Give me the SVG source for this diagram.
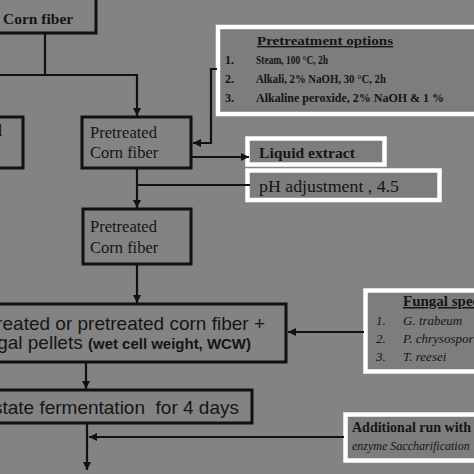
<svg xmlns="http://www.w3.org/2000/svg" width="474" height="474" viewBox="0 0 474 474">
<defs>
<marker id="ah" markerUnits="userSpaceOnUse" markerWidth="10" markerHeight="10" refX="8" refY="4" orient="auto">
<path d="M0,0 L8,4 L0,8 z" fill="#111"/>
</marker>
<style>
.bx{fill:#838383;stroke:#111;stroke-width:3}
.wb{fill:#7d7d7d;stroke:#fff;stroke-width:4.5}
.cn{fill:none;stroke:#111;stroke-width:2.2}
.ser{font-family:"Liberation Serif","Times New Roman",serif;fill:#151515}
.san{font-family:"Liberation Sans",Arial,sans-serif;fill:#151515}
.b{font-weight:bold}
.i{font-style:italic}
</style>
</defs>
<rect width="474" height="474" fill="#838383"/>

<g id="corn-fiber">
<rect class="bx" x="-10" y="-5" width="106" height="38"/>
<text class="ser b" x="3" y="24" font-size="15.5">Corn fiber</text>
</g>

<g id="untreated">
<rect class="bx" x="-60" y="117" width="83" height="51"/>
<text class="ser" x="2" y="136" font-size="16.5" text-anchor="end">Untreated</text>
</g>

<g id="pretreated-1">
<rect class="bx" x="82" y="117" width="109" height="51"/>
<text class="ser" x="90" y="138" font-size="16.5">Pretreated</text>
<text class="ser" x="90" y="158" font-size="16.5">Corn fiber</text>
</g>

<g id="pretreatment-options">
<rect class="wb" x="218" y="27" width="270" height="87"/>
<text class="ser b" x="257" y="45" font-size="13.5" textLength="136" lengthAdjust="spacingAndGlyphs" text-decoration="underline">Pretreatment options</text>
<text class="ser b" x="225" y="64" font-size="12">1.</text>
<text class="ser b" x="256" y="64" font-size="12" textLength="72" lengthAdjust="spacingAndGlyphs">Steam, 100 °C, 2h</text>
<text class="ser b" x="225" y="83" font-size="12">2.</text>
<text class="ser b" x="256" y="83" font-size="12" textLength="130" lengthAdjust="spacingAndGlyphs">Alkali, 2% NaOH, 30 °C, 2h</text>
<text class="ser b" x="225" y="102" font-size="12">3.</text>
<text class="ser b" x="256" y="102" font-size="12">Alkaline peroxide, 2% NaOH &amp; 1 %</text>
</g>

<g id="liquid-extract">
<rect class="wb" x="247.5" y="138.5" width="137" height="26"/>
<text class="ser b" x="259" y="158" font-size="14" textLength="96" lengthAdjust="spacingAndGlyphs">Liquid extract</text>
</g>

<g id="ph-adjustment">
<rect class="wb" x="247.5" y="170.5" width="192" height="29.5"/>
<text class="ser" x="259" y="192" font-size="16" textLength="140" lengthAdjust="spacingAndGlyphs">pH adjustment , 4.5</text>
</g>

<g id="pretreated-2">
<rect class="bx" x="83" y="209" width="108" height="55"/>
<text class="ser" x="90" y="232" font-size="16.5">Pretreated</text>
<text class="ser" x="90" y="253" font-size="16.5">Corn fiber</text>
</g>

<g id="substrate">
<rect class="bx" x="-10" y="304" width="296" height="58"/>
<text class="san" x="265" y="330" font-size="19" text-anchor="end">Untreated or pretreated corn fiber +</text>
<text class="san" x="251" y="349" text-anchor="end"><tspan font-size="19">Fungal pellets </tspan><tspan font-size="15" font-weight="bold" textLength="163" lengthAdjust="spacingAndGlyphs">(wet cell weight, WCW)</tspan></text>
</g>

<g id="fungal-species">
<rect class="wb" x="365.5" y="290.5" width="130" height="81"/>
<text class="ser b" x="403" y="306" font-size="15" text-decoration="underline">Fungal species</text>
<text class="ser i" x="376" y="325" font-size="13">1.</text>
<text class="ser i" x="403" y="325" font-size="13">G. trabeum</text>
<text class="ser i" x="376" y="343" font-size="13">2.</text>
<text class="ser i" x="403" y="343" font-size="13">P. chrysosporium</text>
<text class="ser i" x="376" y="361" font-size="13">3.</text>
<text class="ser i" x="403" y="361" font-size="13">T. reesei</text>
</g>

<g id="fermentation">
<rect class="bx" x="-10" y="390" width="262" height="33"/>
<text class="san" x="239" y="414" font-size="19" text-anchor="end" xml:space="preserve">Solid-state fermentation  for 4 days</text>
</g>

<g id="additional-run">
<rect class="wb" x="345.5" y="414.5" width="140" height="46"/>
<text class="ser b" x="352" y="432" font-size="14">Additional run with</text>
<text class="ser i" x="352" y="450" font-size="12">enzyme Saccharification</text>
</g>

<g id="connectors">
<path class="cn" d="M45 33 V75"/>
<path class="cn" d="M-5 75 H137 V116" marker-end="url(#ah)"/>
<path class="cn" d="M217 69 H211 V143 H193" marker-end="url(#ah)"/>
<path class="cn" d="M191 157 H249" marker-end="url(#ah)"/>
<path class="cn" d="M137 185 H250"/>
<path class="cn" d="M137 168 V208" marker-end="url(#ah)"/>
<path class="cn" d="M137 264 V303" marker-end="url(#ah)"/>
<path class="cn" d="M364 332 H288" marker-end="url(#ah)"/>
<path class="cn" d="M86 362 V389" marker-end="url(#ah)"/>
<path class="cn" d="M87 423 V470" marker-end="url(#ah)"/>
<path class="cn" d="M344 437 H89" marker-end="url(#ah)"/>
</g>
</svg>
